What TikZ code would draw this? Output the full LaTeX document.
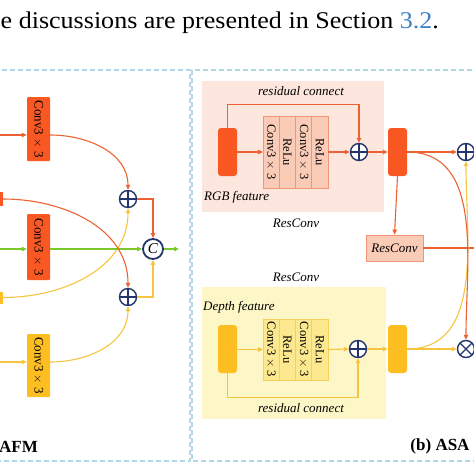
\documentclass[tikz,border=0pt]{standalone}
\usepackage{fontspec}
\setmainfont{Liberation Serif}
\usepackage{xcolor}
\definecolor{blockred}{RGB}{250,88,35}
\definecolor{blockyel}{RGB}{252,190,32}
\definecolor{linered}{RGB}{236,98,52}
\definecolor{lineyel}{RGB}{246,196,62}
\definecolor{linegreen}{RGB}{122,200,42}
\definecolor{navy}{RGB}{36,52,108}
\definecolor{pinkbg}{RGB}{252,230,222}
\definecolor{pinkcol}{RGB}{250,204,184}
\definecolor{pinkline}{RGB}{240,150,118}
\definecolor{yelbg}{RGB}{253,246,198}
\definecolor{yelcol}{RGB}{252,232,142}
\definecolor{yelline}{RGB}{245,208,90}
\definecolor{panelblue}{RGB}{178,216,232}
\definecolor{capblue}{RGB}{62,128,200}
\usepackage{tikz}
\usetikzlibrary{
  shapes.geometric,
  arrows.meta,
  positioning,
  calc
}
\newcommand{\vlabel}[1]{\rotatebox{-90}{#1}}

\begin{document}
\begin{tikzpicture}[
  x=1pt, y=-1pt,
  convred/.style={rectangle, fill=blockred, rounded corners=1pt, minimum width=23pt, inner sep=0pt, font=\fontsize{13}{13}\selectfont},
  convyel/.style={convred, fill=blockyel},
  feat/.style={rectangle, rounded corners=3pt, minimum width=19pt, minimum height=48pt, inner sep=0pt},
  col/.style={rectangle, draw=pinkline, fill=pinkcol, line width=0.8pt, minimum width=16.3pt, inner sep=0pt, outer sep=0pt, font=\fontsize{12.5}{12.5}\selectfont},
  ycol/.style={col, draw=yelline, fill=yelcol},
  oplus/.style={circle, draw=navy, fill=white, line width=1.4pt, minimum size=17pt, inner sep=0pt,
    path picture={\draw[navy, line width=1.4pt] (path picture bounding box.north) -- (path picture bounding box.south) (path picture bounding box.west) -- (path picture bounding box.east);}},
  otimes/.style={oplus,
    path picture={\draw[navy, line width=1.4pt] (path picture bounding box.north west) -- (path picture bounding box.south east) (path picture bounding box.south west) -- (path picture bounding box.north east);}},
  concat/.style={circle, draw=navy, fill=white, line width=1.8pt, minimum size=20pt, inner sep=0pt, font=\fontsize{15}{15}\selectfont\itshape},
  panel/.style={draw=panelblue, line width=1.3pt, dash pattern=on 5pt off 3pt},
  arr/.style={-{Triangle[length=5pt, width=4.5pt]}, line width=1.1pt},
  lbl/.style={font=\fontsize{13}{13}\selectfont\itshape, inner sep=0pt},
  title/.style={font=\fontsize{17}{17}\selectfont\bfseries, inner sep=0pt}
]
  \path[use as bounding box, clip] (0,0) rectangle (474,474);

  % caption line above the figure
  \node[anchor=base west, inner sep=0pt, font=\fontsize{24}{24}\selectfont] (cap) at (0.5,28) {\scalebox{1.085}[1]{e discussions are presented in Section \textcolor{capblue}{3.2}.}};

  % panels
  \draw[panel] (-5,70) rectangle (190,461);
  \draw[panel] (192,70) rectangle (485,461);

  %% (a) AFM
  \node[convred, minimum height=64pt] (convA) at (38.5,129) {\vlabel{Conv3 $\times$ 3}};
  \node[convred, minimum height=66pt] (convB) at (38.5,247) {\vlabel{Conv3 $\times$ 3}};
  \node[convyel, minimum height=63pt] (convC) at (38.5,365.5) {\vlabel{Conv3 $\times$ 3}};
  \node[rectangle, fill=blockred, minimum width=12pt, minimum height=14pt, inner sep=0pt] (tabR) at (-3,199) {};
  \node[rectangle, fill=blockyel, minimum width=12pt, minimum height=12pt, inner sep=0pt] (tabY) at (-3,297.5) {};
  \node[oplus] (addA) at (128,199) {};
  \node[oplus] (addB) at (128,297) {};
  \node[concat] (cat) at (153,249) {C};
  \coordinate (inA) at (0,135);
  \coordinate (inB) at (0,249);
  \coordinate (inC) at (0,362);
  \coordinate (outB) at (179,249);

  \draw[arr, linered] (inA) -- (inA -| convA.west);
  \draw[arr, lineyel] (inC) -- (inC -| convC.west);
  \draw[arr, linered] (convA.east |- inA) to[out=0, in=90] (addA.north);
  \draw[arr, lineyel] (convC.east |- inC) to[out=0, in=-90] (addB.south);
  \draw[arr, lineyel] (tabY.east) to[out=0, in=-90] (addA.south);
  \draw[arr, linegreen] (inB) -- (inB -| convB.west);
  \draw[arr, linegreen] (convB.east |- inB) -- (cat.west);
  \draw[arr, linegreen] (cat.east) -- (outB);
  \draw[arr, linered] (tabR.east) to[out=0, in=90] (addB.north);
  \draw[arr, linered] (addA.east) -| (cat.north);
  \draw[arr, lineyel] (addB.east) -| (cat.south);

  \node[title, anchor=base west] (afm) at (-1,452) {AFM};

  %% (b) ASA
  \node[rectangle, fill=pinkbg, minimum width=182pt, minimum height=131pt] (rgbbg) at (293,146.5) {};
  \node[rectangle, fill=yelbg, minimum width=184pt, minimum height=132pt] (depbg) at (294,353) {};

  % RGB branch
  \node[feat, fill=blockred] (rgbin) at (227.5,152) {};
  \node[col, minimum height=72pt] (rc1) at (271.1,152) {\vlabel{Conv3 $\times$ 3}};
  \node[col, minimum height=72pt, right=0pt of rc1] (rc2) {\vlabel{ReLu}};
  \node[col, minimum height=72pt, right=0pt of rc2] (rc3) {\vlabel{Conv3 $\times$ 3}};
  \node[col, minimum height=72pt, right=0pt of rc3] (rc4) {\vlabel{ReLu}};
  \node[oplus] (addR) at (359,152) {};
  \node[feat, fill=blockred] (rgbout) at (397.5,152) {};
  \node[rectangle, draw=pinkline, fill=pinkcol, line width=0.8pt, minimum width=57pt, minimum height=26pt, inner sep=0pt, font=\fontsize{13}{13}\selectfont\itshape] (resconv) at (394.5,248) {ResConv};
  \node[oplus] (addOut) at (466,152) {};
  \coordinate (resEnd) at (480,248);

  \node[lbl] (resR) at (301,91) {residual connect};
  \node[lbl, anchor=west] (rgblbl) at (204,197) {RGB feature};
  \node[lbl] (rcR) at (296,223) {ResConv};

  \draw[arr, linered] (rgbin.east) -- (rc1.west);
  \draw[arr, linered] (rc4.east) -- (addR.west);
  \draw[arr, linered] (rgbin.north) -- ++(0,-23) -| (addR.north);
  \draw[arr, linered] (addR.east) -- (rgbout.west);
  \draw[arr, linered] (rgbout.east) -- (addOut.west);
  \draw[arr, linered] (rgbout.south) -- (resconv.north);
  \draw[linered, line width=1.1pt] (resconv.east) -- (resEnd);

  % depth branch
  \node[feat, fill=blockyel] (depin) at (227.5,349) {};
  \node[ycol, minimum height=61pt] (dc1) at (271.1,349.5) {\vlabel{Conv3 $\times$ 3}};
  \node[ycol, minimum height=61pt, right=0pt of dc1] (dc2) {\vlabel{ReLu}};
  \node[ycol, minimum height=61pt, right=0pt of dc2] (dc3) {\vlabel{Conv3 $\times$ 3}};
  \node[ycol, minimum height=61pt, right=0pt of dc3] (dc4) {\vlabel{ReLu}};
  \node[oplus] (addD) at (358,349) {};
  \node[feat, fill=blockyel] (depout) at (397.5,349) {};
  \node[otimes] (mulOut) at (466,349) {};

  \node[lbl] (rcD) at (296,277) {ResConv};
  \node[lbl, anchor=west] (deplbl) at (203,307) {Depth feature};
  \node[lbl] (resD) at (301,408) {residual connect};

  \draw[arr, lineyel] (depin.east |- dc1.west) -- (dc1.west);
  \draw[arr, lineyel] (dc4.east) -- (addD.west);
  \draw[arr, lineyel] (depin.south) -- ++(0,24) -| (addD.south);
  \draw[arr, lineyel] (addD.east) -- (depout.west);
  \draw[arr, lineyel] (depout.east) -- (mulOut.west);

  % cross links
  \draw[arr, lineyel] (depout.east) to[out=0, in=-90] (addOut.south);
  \draw[arr, linered] (rgbout.east) to[out=0, in=90] (mulOut.north);

  \node[title] (asa) at (440,446) {(b) ASA};
\end{tikzpicture}
\end{document}
